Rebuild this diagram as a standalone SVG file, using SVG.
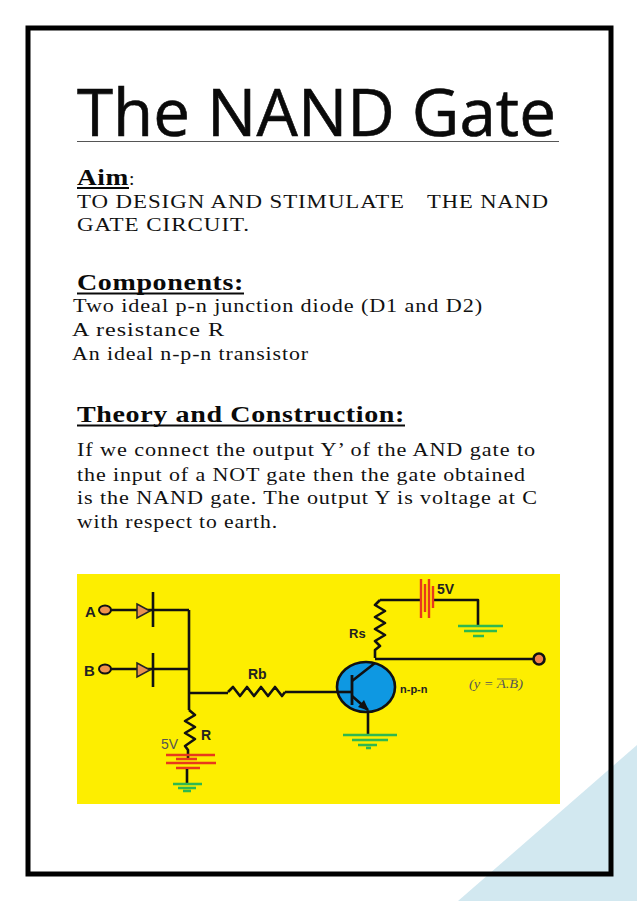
<svg xmlns="http://www.w3.org/2000/svg" width="638" height="901" viewBox="0 0 638 901">
<style>
.b{font-family:"Liberation Serif","Times New Roman",serif;fill:#111;font-size:19.500px;letter-spacing:.8px}
.h{font-family:"Liberation Serif","Times New Roman",serif;fill:#0a0a0a;font-size:23px;font-weight:bold;letter-spacing:.5px}
.u{stroke:#0a0a0a;stroke-width:2}
.l{font-family:"Liberation Sans",Arial,sans-serif;fill:#222;font-weight:bold;font-size:13px}
.w{fill:none;stroke:#111;stroke-width:2.600;stroke-linejoin:round}
.r{fill:none;stroke:#e8391b;stroke-width:2.400}
.g{fill:none;stroke:#2fb84f;stroke-width:2.400}
</style>
<rect width="638" height="901" fill="#fff"/>
<polygon points="637,745 637,901 458,901" fill="#d2e8f0"/>
<rect x="28" y="28" width="583" height="846" fill="none" stroke="#000" stroke-width="5"/>
<g id="title">
<text x="77" y="136" font-family="'Open Sans','Noto Sans',sans-serif" font-size="65" fill="#0a0a0a" stroke="#0a0a0a" stroke-width=".6" textLength="479" lengthAdjust="spacingAndGlyphs">The NAND Gate</text>
<line x1="77" y1="141.500" x2="559" y2="141.500" stroke="#555" stroke-width="1"/>
</g>
<g id="aim">
<text class="h" x="77" y="185" textLength="52" lengthAdjust="spacingAndGlyphs">Aim</text>
<text class="b" x="129" y="185">:</text>
<line class="u" x1="77" y1="188" x2="129" y2="188"/>
<text class="b" x="77" y="208" textLength="328" lengthAdjust="spacingAndGlyphs">TO DESIGN AND STIMULATE</text>
<text class="b" x="427" y="208" textLength="122" lengthAdjust="spacingAndGlyphs">THE NAND</text>
<text class="b" x="77" y="231" textLength="173" lengthAdjust="spacingAndGlyphs">GATE CIRCUIT.</text>
</g>
<g id="components">
<text class="h" x="77" y="290" textLength="167" lengthAdjust="spacingAndGlyphs">Components:</text>
<line class="u" x1="77" y1="293.500" x2="244" y2="293.500"/>
<text class="b" x="73" y="312" textLength="410" lengthAdjust="spacingAndGlyphs">Two ideal p-n junction diode (D1 and D2)</text>
<text class="b" x="72" y="336" textLength="153" lengthAdjust="spacingAndGlyphs">A resistance R</text>
<text class="b" x="72" y="360" textLength="237" lengthAdjust="spacingAndGlyphs">An ideal n-p-n transistor</text>
</g>
<g id="theory">
<text class="h" x="77" y="422" textLength="328" lengthAdjust="spacingAndGlyphs">Theory and Construction:</text>
<line class="u" x1="77" y1="425.500" x2="405" y2="425.500"/>
<text class="b" x="77" y="456" textLength="459" lengthAdjust="spacingAndGlyphs">If we connect the output Y’ of the AND gate to</text>
<text class="b" x="77" y="481" textLength="449" lengthAdjust="spacingAndGlyphs">the input of a NOT gate then the gate obtained</text>
<text class="b" x="77" y="504" textLength="461" lengthAdjust="spacingAndGlyphs">is the NAND gate. The output Y is voltage at C</text>
<text class="b" x="77" y="528" textLength="201" lengthAdjust="spacingAndGlyphs">with respect to earth.</text>
</g>
<rect id="panel" x="77" y="574" width="483" height="230" fill="#fdee00"/>
<g id="connectors">
<path class="w" d="M111 610H153M111 669H153M153 610H189M153 669H189M189 610V710M189 693H228M285 692H352"/>
<path class="w" d="M228 692l5-5 7 9 7-9 7 9 7-9 7 9 7-9 7 9 3-4"/>
<path class="w" d="M189 710l6 5-10 6 10 6-10 6 10 6-10 7 3 4v10"/>
<path class="w" d="M380 600H420M433 600H478V625M380 600l-5 5 10 6-10 6 10 6-10 6 10 6-10 6 5 5-5 4v8M375 659H534"/>
<path class="w" d="M368 712V735"/>
</g>
<g id="A"><ellipse cx="105" cy="610" rx="6" ry="4.500" fill="#f0924c" stroke="#111" stroke-width="2"/><text class="l" x="85" y="617" style="font-size:15px">A</text></g>
<g id="B"><ellipse cx="105" cy="669" rx="6" ry="4.500" fill="#f0924c" stroke="#111" stroke-width="2"/><text class="l" x="84" y="676" style="font-size:15px">B</text></g>
<g id="D1"><polygon points="137,604 150,611 137,618" fill="#e8914f" stroke="#222" stroke-width="1.500"/><line x1="153" y1="592" x2="153" y2="627" stroke="#111" stroke-width="2.600"/></g>
<g id="D2"><polygon points="137,663 150,670 137,677" fill="#e8914f" stroke="#222" stroke-width="1.500"/><line x1="153" y1="653" x2="153" y2="687" stroke="#111" stroke-width="2.600"/></g>
<g id="Rb"><text class="l" x="248" y="679" style="font-size:14px">Rb</text></g>
<g id="R"><text class="l" x="201" y="740" style="font-size:14px">R</text><text x="161" y="749" font-family="'Liberation Sans',Arial,sans-serif" font-size="14" fill="#555">5V</text></g>
<g id="battery1">
<path class="r" d="M166 755H215M176 759H197M166 763H216M176 768H200"/>
<path class="w" d="M187 769V783"/>
<path class="g" d="M173 784H202M178 788H196M183 791H191"/>
</g>
<g id="battery2">
<path class="r" d="M421 579V618M425 584V612M429 579V618M433 586V608"/>
<text class="l" x="437" y="594" style="font-size:14px">5V</text>
<path class="g" d="M458 626H503M464 631H497M473 636H484"/>
</g>
<g id="Rs"><text class="l" x="349" y="638" style="font-size:13px">Rs</text></g>
<g id="transistor">
<ellipse cx="366" cy="687" rx="29" ry="25" fill="#0e98e2" stroke="#111" stroke-width="2.600"/>
<line x1="337" y1="692" x2="352" y2="692" stroke="#111" stroke-width="2.600"/>
<line x1="352" y1="675" x2="352" y2="705" stroke="#111" stroke-width="2.800"/>
<path class="w" d="M352 681L375 663M352 696L368 710"/>
<polygon points="369,711 358,707 364,700" fill="#111"/>
<text class="l" x="400" y="693" style="font-size:11px">n-p-n</text>
<path class="g" d="M343 735H397M352 740H388M358 745H377M366 748H371"/>
</g>
<g id="Y">
<circle cx="539" cy="659" r="5.500" fill="#f0824a" stroke="#111" stroke-width="2.600"/>
<text x="469" y="688" font-family="'Liberation Serif',serif" font-style="italic" font-size="11.500" fill="#555" textLength="54" lengthAdjust="spacingAndGlyphs">(y = A.B)</text>
<line x1="497" y1="679" x2="517" y2="679" stroke="#555" stroke-width=".7"/>
</g>
</svg>
